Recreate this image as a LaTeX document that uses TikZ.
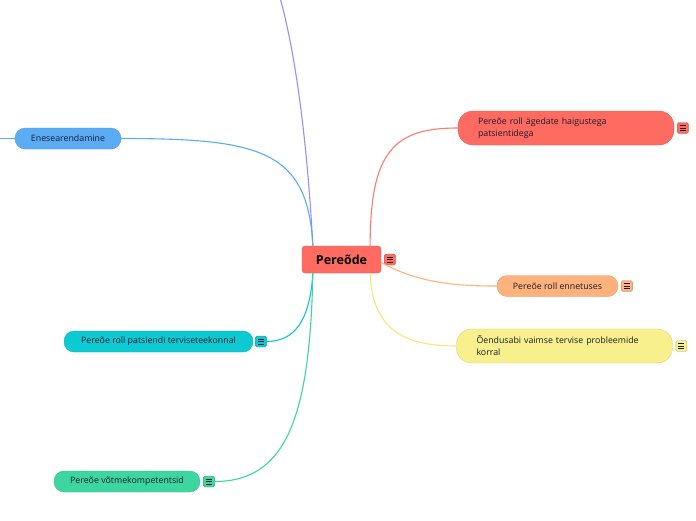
\documentclass[tikz,border=0pt]{standalone}
\usepackage{fontspec}
\setmainfont{Open Sans}
\usetikzlibrary{positioning}
\definecolor{mmred}{HTML}{FF6B61}
\definecolor{mmorange}{HTML}{FFB27C}
\definecolor{mmyellow}{HTML}{F8F08C}
\definecolor{mmblue}{HTML}{5AADF5}
\definecolor{mmcyan}{HTML}{0CCAD2}
\definecolor{mmgreen}{HTML}{3ED6A0}
\definecolor{mmpurple}{HTML}{A28BF5}
\definecolor{mmtext}{HTML}{1B1B2F}
\begin{document}
\begin{tikzpicture}[x=1pt, y=-1pt, line width=1.1pt,
  font=\fontsize{8.8}{12}\selectfont, text=mmtext,
  topic/.style={fill=#1, draw=#1!85!black, line width=0.3pt, rounded corners=10pt, inner sep=0pt, minimum height=21pt},
  twoline/.style={topic=#1, rounded corners=15pt, minimum height=34pt, text width=176pt, inner xsep=20pt, align=left},
  icon/.style={fill=#1, draw=#1!75!black, line width=0.4pt, rounded corners=1.5pt, minimum size=11pt, inner sep=0pt,
    path picture={\foreach \d in {-2.6,0,2.6}
      \draw[line width=0.8pt, mmtext] ([xshift=-3pt, yshift=\d pt]path picture bounding box.center) -- ++(6pt,0);}}]
\useasboundingbox[fill=white] (0,0) rectangle (696,520);
% main topic
\node[fill=mmred, draw=mmred!85!black, line width=0.3pt, rounded corners=3pt, minimum width=79pt, minimum height=27pt,
  font=\fontsize{12.5}{14}\selectfont\bfseries, text=black] (pn) at (341.5,259.5) {Pereõde};
\node[icon=mmred, right=3pt of pn] (pni) {};
% right side
\node[twoline=mmred] (acute) at (566,128) {Pereõe roll ägedate haigustega\\patsientidega};
\node[icon=mmred, right=3pt of acute] (acutei) {};
\node[topic=mmorange, minimum width=121pt] (prev) at (557.5,286) {Pereõe roll ennetuses};
\node[icon=mmorange, right=3pt of prev] (previ) {};
\node[twoline=mmyellow] (mental) at (564.5,346) {Õendusabi vaimse tervise probleemide\\korral};
\node[icon=mmyellow, right=3pt of mental] (mentali) {};
% left side
\node[topic=mmblue, minimum width=106pt] (self) at (68,138.5) {Enesearendamine};
\node[topic=mmcyan, minimum width=189pt] (path) at (158.5,341.5) {Pereõe roll patsiendi terviseteekonnal};
\node[icon=mmcyan, right=2pt of path] (pathi) {};
\node[topic=mmgreen, minimum width=146pt] (comp) at (127,481.5) {Pereõe võtmekompetentsid};
\node[icon=mmgreen, right=3pt of comp] (compi) {};
\coordinate (selfend) at (0,138.5);
\coordinate (purpend) at (280,-2);
% connectors
\draw[mmred!90!white] ([xshift=-11pt]pn.north east) .. controls (370,150) and (395,128) .. (acute.west);
\draw[mmorange] ([yshift=-3pt]pn.east) .. controls (420,284) and (460,286) .. (prev.west);
\draw[mmyellow!90!orange] ([xshift=-11pt]pn.south east) .. controls (372,330) and (405,346) .. (mental.west);
\draw[mmpurple] ([xshift=11pt]pn.north west) .. controls (306,120) and (292,40) .. (purpend);
\draw[mmblue] ([xshift=11pt]pn.north west) .. controls (308,150) and (260,138.5) .. (self.east);
\draw[mmblue] (self.west) -- (selfend);
\draw[mmcyan] ([xshift=11pt]pn.south west) .. controls (310,320) and (295,341.5) .. (pathi.east);
\draw[mmgreen] ([xshift=11pt]pn.south west) .. controls (310,420) and (285,481.5) .. (compi.east);
\end{tikzpicture}
\end{document}
